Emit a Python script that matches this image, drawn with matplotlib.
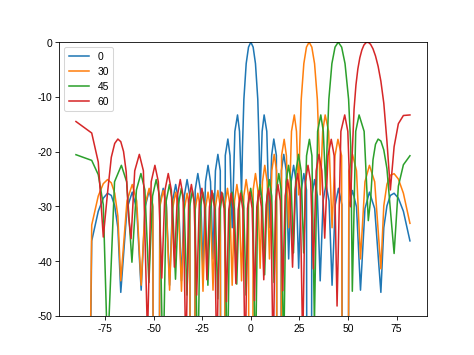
import matplotlib.pyplot as plt

# scan angles of the four beams (legend labels)
labels = ['0', '30', '45', '60']

# array pattern: angle (deg) and level (dB)
# -300 marks a null that drops far below the bottom of the axis
x0 = [-90, -81.89, -78.52, -75.93, -73.74, -71.81, -70.05, -68.43, -66.93,
      -63.74, -61.04, -58.74, -56.44,
      -54.39, -52.33, -50.46, -48.59,
      -46.85, -45.10, -43.46, -41.81,
      -40.25, -38.68, -37.19, -35.69,
      -34.25, -32.80, -31.40, -30.00,
      -28.64, -27.28, -25.95, -24.62,
      -23.32, -22.02, -20.75, -19.47,
      -18.22, -16.96, -15.72, -14.48,
      -13.15, -11.82, -10.71, -9.59,
      -8.22, -6.85, -5.82, -4.78,
      -4.30, -3.58, -2.39, -1.19, 0, 1.19, 2.39, 3.58, 4.30,
      4.78, 5.82, 6.85, 8.22,
      9.59, 10.71, 11.82, 13.15,
      14.48, 15.72, 16.96, 18.22,
      19.47, 20.75, 22.02, 23.32,
      24.62, 25.95, 27.28, 28.64,
      30.00, 31.40, 32.80, 34.25,
      35.69, 37.19, 38.68, 40.25,
      41.81, 43.46, 45.10, 46.85,
      48.59, 50.46, 52.33, 54.39,
      56.44, 58.74, 61.04, 63.74,
      66.93, 68.43, 70.05, 71.81, 73.74, 75.93, 78.52, 81.89]
y0 = [-300, -36.3, -30.9, -28.5, -27.6, -28.0, -29.9, -33.9, -45.7,
      -30.4, -27.4, -30.4, -45.3,
      -30.1, -27.1, -30.1, -300,
      -29.7, -26.7, -29.7, -44.4,
      -29.0, -26.0, -29.0, -43.6,
      -28.1, -25.1, -28.1, -300,
      -27.0, -24.0, -27.0, -41.3,
      -25.5, -22.5, -25.5, -39.6,
      -23.5, -20.5, -23.5, -300,
      -20.7, -17.7, -20.7, -33.9,
      -16.3, -13.3, -16.3, -27.9,
      -19.2, -10.45, -3.92, -0.91, 0, -0.91, -3.92, -10.45, -19.2,
      -27.9, -16.3, -13.3, -16.3,
      -33.9, -20.7, -17.7, -20.7,
      -300, -23.5, -20.5, -23.5,
      -39.6, -25.5, -22.5, -25.5,
      -41.3, -27.0, -24.0, -27.0,
      -300, -28.1, -25.1, -28.1,
      -43.6, -29.0, -26.0, -29.0,
      -44.4, -29.7, -26.7, -29.7,
      -300, -30.1, -27.1, -30.1,
      -45.3, -30.4, -27.4, -30.4,
      -45.7, -33.9, -29.9, -28.0, -27.6, -28.5, -30.9, -36.3]

x30 = [-90, -81.89, -78.52, -75.93, -73.74, -71.81, -70.05, -68.43, -66.93,
       -63.74, -61.04, -58.74, -56.44,
       -54.39, -52.33, -50.46, -48.59,
       -46.85, -45.10, -43.46, -41.81,
       -40.25, -38.68, -37.19, -35.69,
       -34.25, -32.80, -31.40, -30.00,
       -28.64, -27.28, -25.95, -24.62,
       -23.32, -22.02, -20.75, -19.47,
       -18.22, -16.96, -15.72, -14.48,
       -13.25, -12.02, -10.81, -9.59,
       -8.39, -7.18, -5.98, -4.78,
       -3.59, -2.39, -1.20, 0,
       1.20, 2.39, 3.59, 4.78,
       5.98, 7.18, 8.39, 9.59,
       10.81, 12.02, 13.25, 14.48,
       15.82, 17.16, 18.32, 19.47,
       20.93, 22.38, 23.50, 24.62,
       25.15, 25.94, 27.28, 28.63, 30, 31.39, 32.80, 34.23, 35.10, 35.69,
       36.98, 38.26, 40.04, 41.81,
       43.32, 44.82, 46.71, 48.59,
       50.46, 52.33, 54.39, 56.44,
       58.74, 61.04, 63.74, 66.93,
       68.43, 70.05, 71.81, 73.74, 75.93, 78.52, 81.89]
y30 = [-300, -33.4, -28.1, -25.85, -25.1, -25.7, -27.6, -31.8, -43.6,
       -29.0, -26.0, -29.0, -44.4,
       -29.7, -26.7, -29.7, -300,
       -30.1, -27.1, -30.1, -45.3,
       -30.4, -27.4, -30.4, -45.5,
       -30.6, -27.6, -30.6, -300,
       -30.6, -27.6, -30.6, -45.5,
       -30.4, -27.4, -30.4, -45.3,
       -30.1, -27.1, -30.1, -300,
       -29.7, -26.7, -29.7, -44.4,
       -29.0, -26.0, -29.0, -43.6,
       -28.1, -25.1, -28.1, -300,
       -27.0, -24.0, -27.0, -41.3,
       -25.5, -22.5, -25.5, -39.6,
       -23.5, -20.5, -23.5, -300,
       -20.75, -17.75, -20.75, -33.9,
       -16.3, -13.3, -16.3, -27.9,
       -19.2, -10.45, -3.92, -0.91, 0, -0.91, -3.92, -10.45, -19.2, -27.9,
       -16.3, -13.3, -16.3, -33.9,
       -20.75, -17.75, -20.75, -300,
       -23.5, -20.5, -23.5, -39.6,
       -25.5, -22.5, -25.5, -41.4,
       -29.9, -25.95, -24.3, -24.03, -25.0, -27.6, -33.1]

x45 = [-90, -81.89, -78.52, -75.93, -73.74,
       -70.14, -66.62, -63.91, -61.19,
       -58.88, -56.57, -54.52, -52.46,
       -50.58, -48.70, -46.95, -45.20,
       -43.55, -41.90, -40.34, -38.77,
       -37.27, -35.77, -34.33, -32.88,
       -31.48, -30.08, -28.72, -27.36,
       -26.03, -24.70, -23.40, -22.10,
       -20.83, -19.55, -18.29, -17.03,
       -15.79, -14.55, -13.33, -12.10,
       -10.89, -9.67, -8.46, -7.25,
       -6.05, -4.85, -3.66, -2.46,
       -1.27, -0.07, 1.13, 2.32,
       3.52, 4.71, 5.91, 7.11,
       8.32, 9.52, 10.74, 11.95,
       13.18, 14.40, 15.64, 16.88,
       18.14, 19.40, 20.68, 21.95,
       23.25, 24.55, 25.88, 27.20,
       28.68, 30.15, 31.44, 32.72,
       34.37, 36.01, 37.30, 38.59,
       39.21, 40.15, 41.72, 43.34, 45, 46.74, 48.48, 50.32, 51.45, 52.23,
       53.98, 55.72, 58.31, 60.46,
       61.64, 62.87, 64.16, 65.51, 66.93, 68.43, 70.05, 71.81, 73.74, 75.93,
       78.52, 81.89]
y45 = [-20.56, -21.6, -24.2, -29.7, -57.0,
       -25.5, -22.5, -25.5, -40.2,
       -27.0, -24.0, -27.0, -43.9,
       -28.1, -25.1, -28.1, -61.2,
       -29.0, -26.0, -29.0, -43.3,
       -29.7, -26.7, -29.7, -46.2,
       -30.1, -27.1, -30.1, -62.9,
       -30.4, -27.4, -30.4, -44.4,
       -30.6, -27.6, -30.6, -46.9,
       -30.6, -27.6, -30.6, -63.1,
       -30.4, -27.4, -30.4, -44.2,
       -30.1, -27.1, -30.1, -46.2,
       -29.7, -26.7, -29.7, -62.0,
       -29.0, -26.0, -29.0, -42.5,
       -28.1, -25.1, -28.1, -43.9,
       -27.0, -24.0, -27.0, -58.9,
       -25.5, -22.5, -25.5, -38.5,
       -23.5, -20.5, -23.5, -38.5,
       -20.75, -17.75, -20.75, -51.5,
       -16.3, -13.3, -16.3, -26.8,
       -19.2, -10.45, -3.92, -0.91, 0, -0.91, -3.92, -10.45, -19.2, -45.5,
       -16.3, -13.3, -16.3, -32.6,
       -28.8, -21.5, -18.66, -17.71, -18.06, -19.69, -23.1, -30.6, -38.6, -26.3,
       -22.4, -20.75]

x60 = [-90, -81.89, -78.52, -75.93, -73.74, -71.81, -70.05, -68.43, -66.93,
       -65.51, -64.16, -62.87, -61.64,
       -59.75, -57.38, -55.29, -53.19,
       -51.28, -49.37, -47.60, -45.83,
       -44.17, -42.50, -40.92, -39.34,
       -37.83, -36.32, -34.87, -33.41,
       -32.00, -30.59, -29.23, -27.86,
       -26.53, -25.19, -23.89, -22.58,
       -21.30, -20.02, -18.76, -17.50,
       -16.26, -15.01, -13.78, -12.55,
       -11.34, -10.12, -8.91, -7.70,
       -6.50, -5.30, -4.10, -2.90,
       -1.71, -0.51, 0.68, 1.87,
       3.07, 4.26, 5.46, 6.66,
       7.87, 9.07, 10.29, 11.50,
       12.73, 13.95, 15.19, 16.42,
       17.68, 18.93, 20.20, 21.47,
       22.77, 24.06, 25.38, 26.70,
       28.06, 29.41, 30.80, 32.19,
       33.63, 35.06, 36.55, 38.03,
       39.71, 41.39, 42.89, 44.38,
       46.35, 48.32, 49.92,
       51.26, 52.19, 53.13, 54.10, 55.08, 56.10, 57.14, 58.21, 59.32, 60.46,
       61.64, 62.87, 64.16, 65.51, 66.93, 68.43, 70.05, 71.81, 73.74, 75.93,
       78.52, 81.89]
y60 = [-14.5, -16.6, -21.9, -35.6, -27.5, -21.03, -18.5, -17.7, -18.18,
       -19.97, -23.64, -32.0, -35.9,
       -23.5, -20.5, -23.5, -53.9,
       -25.5, -22.5, -25.5, -43.1,
       -27.0, -24.0, -27.0, -41.1,
       -28.1, -25.1, -28.1, -58.0,
       -29.0, -26.0, -29.0, -46.2,
       -29.7, -26.7, -29.7, -43.4,
       -30.1, -27.1, -30.1, -59.7,
       -30.4, -27.4, -30.4, -47.4,
       -30.6, -27.6, -30.6, -44.1,
       -30.6, -27.6, -30.6, -59.9,
       -30.4, -27.4, -30.4, -47.2,
       -30.1, -27.1, -30.1, -43.4,
       -29.7, -26.7, -29.7, -58.7,
       -29.0, -26.0, -29.0, -45.4,
       -28.1, -25.1, -28.1, -41.1,
       -27.0, -24.0, -27.0, -55.7,
       -25.5, -22.5, -25.5, -41.4,
       -23.5, -20.5, -23.5, -35.8,
       -20.75, -17.75, -20.75, -48.2,
       -16.3, -13.3, -16.3,
       -30.07, -20.44, -12.25, -7.83, -4.90, -2.85, -1.45, -0.53, -0.08, -0.03,
       -0.40, -1.22, -2.52, -4.41, -7.13, -11.15, -18.11, -27.0, -19.1, -14.9,
       -13.4, -13.3]

plt.rcParams['font.family'] = ['Liberation Sans', 'DejaVu Sans']
plt.rcParams['axes.unicode_minus'] = False

fig = plt.figure(figsize=(6.4, 4.8), dpi=74.07)
plt.plot(x0, y0, label=labels[0])
plt.plot(x30, y30, label=labels[1])
plt.plot(x45, y45, label=labels[2])
plt.plot(x60, y60, label=labels[3])
plt.ylim(-50, 0)
plt.legend(loc='upper left')
plt.savefig('out.png')
